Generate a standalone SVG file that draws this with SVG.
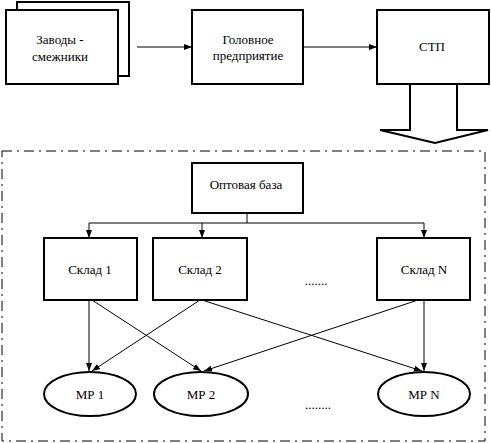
<svg xmlns="http://www.w3.org/2000/svg" width="491" height="443" viewBox="0 0 491 443">
<style>
.box{fill:#fff;stroke:#000;stroke-width:2}
.ln{fill:none;stroke:#000;stroke-width:1}
.t{font-family:'Liberation Serif','Times New Roman',serif;font-size:13px;fill:#000;text-anchor:middle}
</style>
<defs>
<marker id="ah" viewBox="0 0 8 8" refX="8" refY="4" markerWidth="8" markerHeight="8" markerUnits="userSpaceOnUse" orient="auto">
<path d="M0,1 L8,4 L0,7 Z" fill="#000"/>
</marker>
</defs>
<rect width="491" height="443" fill="#fff"/>
<g id="frame">
<rect x="2" y="151" width="483" height="290" fill="none" stroke="#000" stroke-width="1" stroke-dasharray="10,5,2,5"/>
</g>
<g id="connectors">
<line class="ln" x1="137" y1="47" x2="192" y2="47" marker-end="url(#ah)"/>
<line class="ln" x1="303" y1="47" x2="377" y2="47" marker-end="url(#ah)"/>
<polyline class="ln" points="247,213 247,223"/>
<line class="ln" x1="89" y1="223" x2="424" y2="223"/>
<line class="ln" x1="89" y1="223" x2="89" y2="238" marker-end="url(#ah)"/>
<line class="ln" x1="202" y1="223" x2="202" y2="238" marker-end="url(#ah)"/>
<line class="ln" x1="424" y1="223" x2="424" y2="238" marker-end="url(#ah)"/>
<line class="ln" x1="89" y1="300" x2="89" y2="371" marker-end="url(#ah)"/>
<line class="ln" x1="92" y1="300" x2="201" y2="371" marker-end="url(#ah)"/>
<line class="ln" x1="200" y1="300" x2="92" y2="371" marker-end="url(#ah)"/>
<line class="ln" x1="202" y1="300" x2="422" y2="371" marker-end="url(#ah)"/>
<line class="ln" x1="418" y1="300" x2="204" y2="371" marker-end="url(#ah)"/>
<line class="ln" x1="424" y1="300" x2="424" y2="371" marker-end="url(#ah)"/>
</g>
<g id="zavody">
<rect class="box" x="17" y="2" width="112" height="74"/>
<rect class="box" x="6" y="10" width="112" height="74"/>
<text class="t" x="60" y="44">Заводы -</text>
<text class="t" x="60" y="61">смежники</text>
</g>
<g id="golovnoe">
<rect class="box" x="192" y="10" width="111" height="74"/>
<text class="t" x="248" y="44">Головное</text>
<text class="t" x="248" y="60">предприятие</text>
</g>
<g id="stp">
<rect class="box" x="377" y="10" width="112" height="74"/>
<text class="t" x="432" y="51">СТП</text>
</g>
<g id="bigarrow">
<polygon points="410,84 457,84 457,130 488,130 435,143 380,130 410,130" fill="#fff" stroke="#000" stroke-width="2"/>
</g>
<g id="optovaya">
<rect class="box" x="192" y="163" width="111" height="50"/>
<text class="t" x="246" y="189">Оптовая база</text>
</g>
<g id="sklad1">
<rect class="box" x="44" y="238" width="93" height="62"/>
<text class="t" x="90" y="274">Склад 1</text>
</g>
<g id="sklad2">
<rect class="box" x="153" y="238" width="94" height="62"/>
<text class="t" x="200" y="274">Склад 2</text>
</g>
<g id="dots1"><text class="t" x="316" y="285">.......</text></g>
<g id="skladN">
<rect class="box" x="377" y="238" width="93" height="62"/>
<text class="t" x="424" y="274">Склад N</text>
</g>
<g id="mp1">
<ellipse class="box" cx="90" cy="394" rx="46" ry="22"/>
<text class="t" x="90" y="399">МР 1</text>
</g>
<g id="mp2">
<ellipse class="box" cx="201" cy="394" rx="47" ry="22"/>
<text class="t" x="201" y="399">МР 2</text>
</g>
<g id="dots2"><text class="t" x="318" y="409">........</text></g>
<g id="mpN">
<ellipse class="box" cx="424" cy="394" rx="46" ry="22"/>
<text class="t" x="424" y="399">МР N</text>
</g>
</svg>
